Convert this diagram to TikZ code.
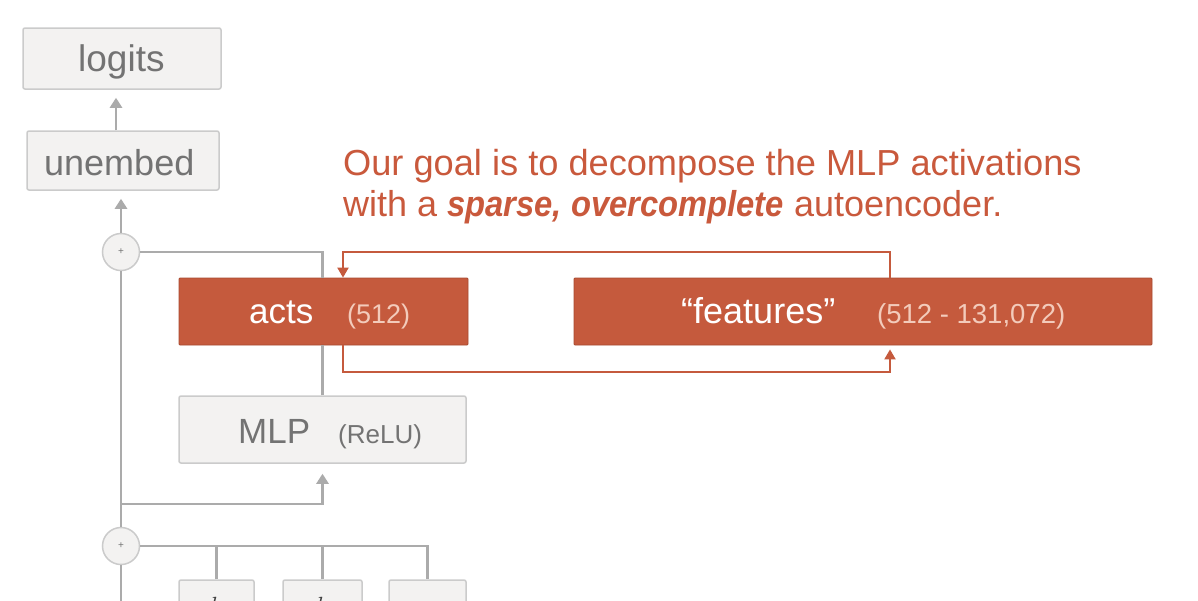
\documentclass[tikz,border=0pt]{standalone}
\usepackage{fontspec}
\setmainfont{Liberation Sans}
\usetikzlibrary{arrows.meta}
\definecolor{rd}{HTML}{C55A3D}
\definecolor{rdedge}{HTML}{A84A31}
\definecolor{rdtext}{HTML}{C9593C}
\definecolor{pale}{HTML}{F3CBBB}
\definecolor{gfill}{HTML}{F3F2F1}
\definecolor{gborder}{HTML}{CBCBCB}
\definecolor{gline}{HTML}{ABABAB}
\definecolor{gtext}{HTML}{737373}
\newcommand{\fs}[1]{\fontsize{#1}{#1}\selectfont}
\tikzset{
  graybox/.style={draw=gborder, fill=gfill, line width=1.5pt, rounded corners=2pt, inner sep=0pt},
  redbox/.style={fill=rd, draw=rdedge, line width=0.8pt, rounded corners=1pt, inner sep=0pt},
  lbl/.style={anchor=base west, inner sep=0pt},
  gl/.style={draw=gline, line width=2.5pt},
  garrow/.style={gl, -{Triangle[width=12pt,length=10pt]}},
  rl/.style={draw=rd, line width=2pt},
  rarrow/.style={rl, -{Triangle[width=11pt,length=10pt]}},
  pluscirc/.style={circle, draw=gborder, fill=gfill, line width=1.5pt, minimum size=37pt, inner sep=0pt, text=gtext, font=\fs{10}},
}
\begin{document}
\begin{tikzpicture}[x=1pt,y=-1pt]
\useasboundingbox (0,0) rectangle (1198,600);
\fill[white] (0,0) rectangle (1198,600);
% boxes
\node[graybox, minimum width=198pt, minimum height=61pt] (logits) at (122,58.5) {};
\node[graybox, minimum width=192pt, minimum height=59pt] (unembed) at (123,160.5) {};
\node[redbox, minimum width=289pt, minimum height=67pt] (acts) at (323.5,311.5) {};
\node[redbox, minimum width=578pt, minimum height=67pt] (features) at (863,311.5) {};
\node[graybox, minimum width=287pt, minimum height=67pt] (mlp) at (322.5,429.5) {};
\node[graybox, minimum width=75pt, minimum height=40pt] (b1) at (216.5,600) {};
\node[graybox, minimum width=79pt, minimum height=40pt] (b2) at (322.5,600) {};
\node[graybox, minimum width=77pt, minimum height=40pt] (b3) at (427.5,600) {};
\node[pluscirc] (c1) at (121,252) {+};
\node[pluscirc] (c2) at (121,546) {+};
% labels
\node[lbl, text=gtext, font=\fs{37}] (tlogits) at (78,71) {logits};
\node[lbl, text=gtext, font=\fs{36}] (tunembed) at (44,175) {unembed};
\node[lbl, text=white, font=\fs{35}] (tacts) at (249,323) {acts};
\node[lbl, text=pale, font=\fs{27}] (tacts2) at (347,323) {(512)};
\node[lbl, text=white, font=\fs{36}] (tfeat) at (681,323) {“features”};
\node[lbl, text=pale, font=\fs{27.5}] (tfeat2) at (877,323) {(512 - 131,072)};
\node[lbl, text=gtext, font=\fs{35}] (tmlp) at (238,443) {MLP};
\node[lbl, text=gtext, font=\fs{26}] (tmlp2) at (338,443) {(ReLU)};
\node[lbl, text=rdtext, font=\fs{36.2}] (goal1) at (343,175) {Our goal is to decompose the MLP activations};
\node[lbl, text=rdtext, font=\fs{36}] (goal2) at (343,216) {with a \scalebox{0.91}[1]{\textbf{\textit{sparse, overcomplete}}} autoencoder.};
\node[anchor=base, inner sep=0pt, text=black!75, font=\fs{30}] (h1) at (216.5,614) {$h$};
\node[anchor=base, inner sep=0pt, text=black!75, font=\fs{30}] (h2) at (322.5,614) {$h$};
% gray connectors
\coordinate (bot) at (121,620);
\coordinate (j1) at (121,504);
\draw[garrow, shorten >=8pt] ([xshift=-7pt]unembed.north) -- ([xshift=-6pt]logits.south);
\draw[gl] (bot) -- (c2);
\draw[gl] (c2) -- (c1);
\draw[garrow, shorten >=8pt] (c1) -- (unembed.south -| c1);
\draw[garrow, shorten >=10pt] (j1) -| (mlp.south);
\draw[gl] (mlp.north) -- (acts.south -| mlp.north);
\draw[gl] (acts.north -| mlp.north) |- (c1);
\draw[gl] (c2) -| (b3.north);
\draw[gl] (b1.north) -- (b1.north |- c2);
\draw[gl] (b2.north) -- (b2.north |- c2);
% red connectors
\coordinate (fx) at (890,0);
\coordinate (ax) at (343,0);
\draw[rarrow] (features.north -| fx) -- ++(0,-26) -| (acts.north -| ax);
\draw[rarrow, shorten >=4pt] (acts.south -| ax) -- ++(0,27) -| (features.south -| fx);
\end{tikzpicture}
\end{document}
